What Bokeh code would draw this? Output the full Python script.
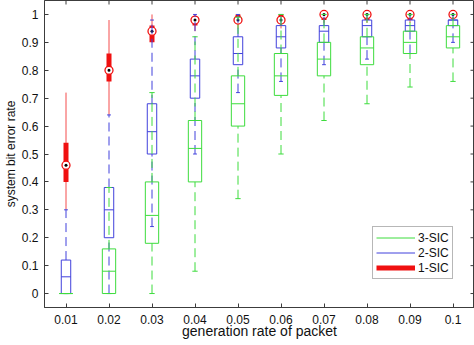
import numpy as np
from bokeh.plotting import figure
from bokeh.models import Range1d, FixedTicker, Legend, LegendItem
from bokeh.embed import file_html
from bokeh.resources import INLINE

# ---------------- data ----------------
rates = [0.01, 0.02, 0.03, 0.04, 0.05, 0.06, 0.07, 0.08, 0.09, 0.10]
x_tick_labels = ["0.01", "0.02", "0.03", "0.04", "0.05", "0.06", "0.07", "0.08", "0.09", "0.1"]
y_ticks = [0.0, 0.1, 0.2, 0.3, 0.4, 0.5, 0.6, 0.7, 0.8, 0.9, 1.0]
y_tick_labels = ["0", "0.1", "0.2", "0.3", "0.4", "0.5", "0.6", "0.7", "0.8", "0.9", "1"]

# 3-SIC (green)
sic3_lo  = [0.00, 0.00, 0.00, 0.08, 0.34, 0.50, 0.62, 0.68, 0.74, 0.76]
sic3_q1  = [0.00, 0.00, 0.18, 0.40, 0.60, 0.71, 0.78, 0.82, 0.86, 0.88]
sic3_med = [0.00, 0.08, 0.28, 0.52, 0.68, 0.78, 0.84, 0.88, 0.90, 0.92]
sic3_q3  = [0.00, 0.16, 0.40, 0.62, 0.78, 0.86, 0.90, 0.92, 0.94, 0.96]
sic3_hi  = [0.00, 0.38, 0.72, 0.92, 0.99, 1.00, 1.00, 1.00, 1.00, 1.00]

# 2-SIC (blue)
sic2_lo  = [0.00, 0.00, 0.24, 0.50, 0.72, 0.76, 0.82, 0.84, 0.86, 0.90]
sic2_q1  = [0.00, 0.20, 0.50, 0.70, 0.82, 0.88, 0.90, 0.92, 0.94, 0.96]
sic2_med = [0.06, 0.30, 0.58, 0.78, 0.86, 0.92, 0.94, 0.96, 0.96, 0.98]
sic2_q3  = [0.12, 0.38, 0.68, 0.84, 0.92, 0.96, 0.96, 0.98, 0.98, 0.98]
sic2_hi  = [0.30, 0.64, 0.98, 1.00, 1.00, 1.00, 1.00, 1.00, 1.00, 1.00]

# 1-SIC (red)
sic1_lo  = [0.30, 0.64, 0.90, 0.94, 0.95, 0.95, 0.97, 0.97, 0.97, 0.98]
sic1_q1  = [0.40, 0.76, 0.90, 0.96, 0.975, 0.975, 0.98, 0.98, 0.98, 0.99]
sic1_med = [0.46, 0.80, 0.94, 0.98, 0.98, 0.98, 1.00, 1.00, 1.00, 1.00]
sic1_q3  = [0.54, 0.86, 0.96, 0.99, 1.00, 1.00, 1.00, 1.00, 1.00, 1.00]
sic1_hi  = [0.72, 0.98, 1.00, 1.00, 1.00, 1.00, 1.00, 1.00, 1.00, 1.00]

# ---------------- style ----------------
FONT = "Liberation Sans"
AX = "#3c3c3c"
GREEN = "#3ddc3d"
BLUE = "#4040dc"
RED = "#f01010"
DASH = "9 5"
X_MIN, X_MAX = 0.005, 0.105
Y_MIN, Y_MAX = -0.05, 1.05

p = figure(width=474, height=345,
           x_range=Range1d(X_MIN, X_MAX), y_range=Range1d(Y_MIN, Y_MAX),
           output_backend="svg", toolbar_location=None,
           min_border_left=44, min_border_right=0, min_border_top=0, min_border_bottom=38)
p.grid.visible = False
p.outline_line_color = AX
p.background_fill_color = "white"
p.border_fill_color = "white"

x = np.array(rates)


def box_series(lo, q1, med, q3, hi, color, w):
    lo, q1, med, q3, hi = map(np.array, (lo, q1, med, q3, hi))
    cw = w * 0.4
    p.segment(x, q3, x, hi, line_color=color, line_width=1, line_dash=DASH)
    p.segment(x, lo, x, q1, line_color=color, line_width=1, line_dash=DASH)
    p.segment(x - cw / 2, hi, x + cw / 2, hi, line_color=color, line_width=1)
    p.segment(x - cw / 2, lo, x + cw / 2, lo, line_color=color, line_width=1)
    p.quad(left=x - w / 2, right=x + w / 2, bottom=q1, top=q3,
           fill_color=None, line_color=color, line_width=1)
    return p.segment(x - w / 2, med, x + w / 2, med, line_color=color, line_width=1)


# red compact boxplot (drawn first, lines of others pass over it)
r_lo, r_q1, r_med, r_q3, r_hi = map(np.array, (sic1_lo, sic1_q1, sic1_med, sic1_q3, sic1_hi))
p.segment(x, r_lo, x, r_hi, line_color=RED, line_width=1, line_alpha=0.75)
red_box = p.segment(x, r_q1, x, r_q3, line_color=RED, line_width=5, line_cap="butt")
p.scatter(x, r_med, marker="circle", size=8, fill_color="white",
          line_color=RED, line_width=1.3)
p.scatter(x, r_med, marker="circle", size=3, fill_color="black", line_color=None)

blue_med = box_series(sic2_lo, sic2_q1, sic2_med, sic2_q3, sic2_hi, BLUE, 0.0022)
green_med = box_series(sic3_lo, sic3_q1, sic3_med, sic3_q3, sic3_hi, GREEN, 0.0031)

# inward ticks on the top and right edges of the box (half of each dash is clipped)
p.scatter(x=rates, y=[Y_MAX] * len(rates), marker="dash", angle=np.pi / 2, size=8,
          line_color=AX, line_width=1)
p.scatter(x=[X_MAX] * len(y_ticks), y=y_ticks, marker="dash", size=8,
          line_color=AX, line_width=1)

# ---------------- axes ----------------
xa = p.xaxis[0]
xa.ticker = FixedTicker(ticks=rates)
xa.major_label_overrides = {r: l for r, l in zip(rates, x_tick_labels)}
ya = p.yaxis[0]
ya.ticker = FixedTicker(ticks=y_ticks)
ya.major_label_overrides = {t: l for t, l in zip(y_ticks, y_tick_labels)}

for ax in (xa, ya):
    ax.axis_line_color = AX
    ax.major_tick_line_color = AX
    ax.major_tick_in = 4
    ax.major_tick_out = 0
    ax.minor_tick_line_color = None
    ax.major_label_text_font = FONT
    ax.major_label_text_font_size = "12px"
    ax.major_label_text_color = "#111111"
    ax.axis_label_text_font = FONT
    ax.axis_label_text_font_style = "normal"
    ax.axis_label_text_color = "#111111"

xa.axis_label = "generation rate of packet"
xa.axis_label_text_font_size = "14px"
xa.major_label_standoff = 7
xa.axis_label_standoff = -4

ya.axis_label = "system bit error rate"
ya.axis_label_text_font_size = "12px"
ya.major_label_standoff = 6
ya.axis_label_standoff = 1

legend = Legend(items=[LegendItem(label="3-SIC", renderers=[green_med]),
                       LegendItem(label="2-SIC", renderers=[blue_med]),
                       LegendItem(label="1-SIC", renderers=[red_box])],
                location=(328, 28))
legend.label_text_font = FONT
legend.label_text_font_size = "12px"
legend.label_text_color = "#111111"
legend.glyph_width = 39
legend.glyph_height = 15
legend.label_height = 15
legend.spacing = 0
legend.padding = 3
legend.margin = 0
legend.label_standoff = 3
legend.border_line_color = "#707070"
legend.border_line_width = 1
legend.background_fill_alpha = 1
p.add_layout(legend)

open("out.html", "w").write(file_html(p, INLINE))
